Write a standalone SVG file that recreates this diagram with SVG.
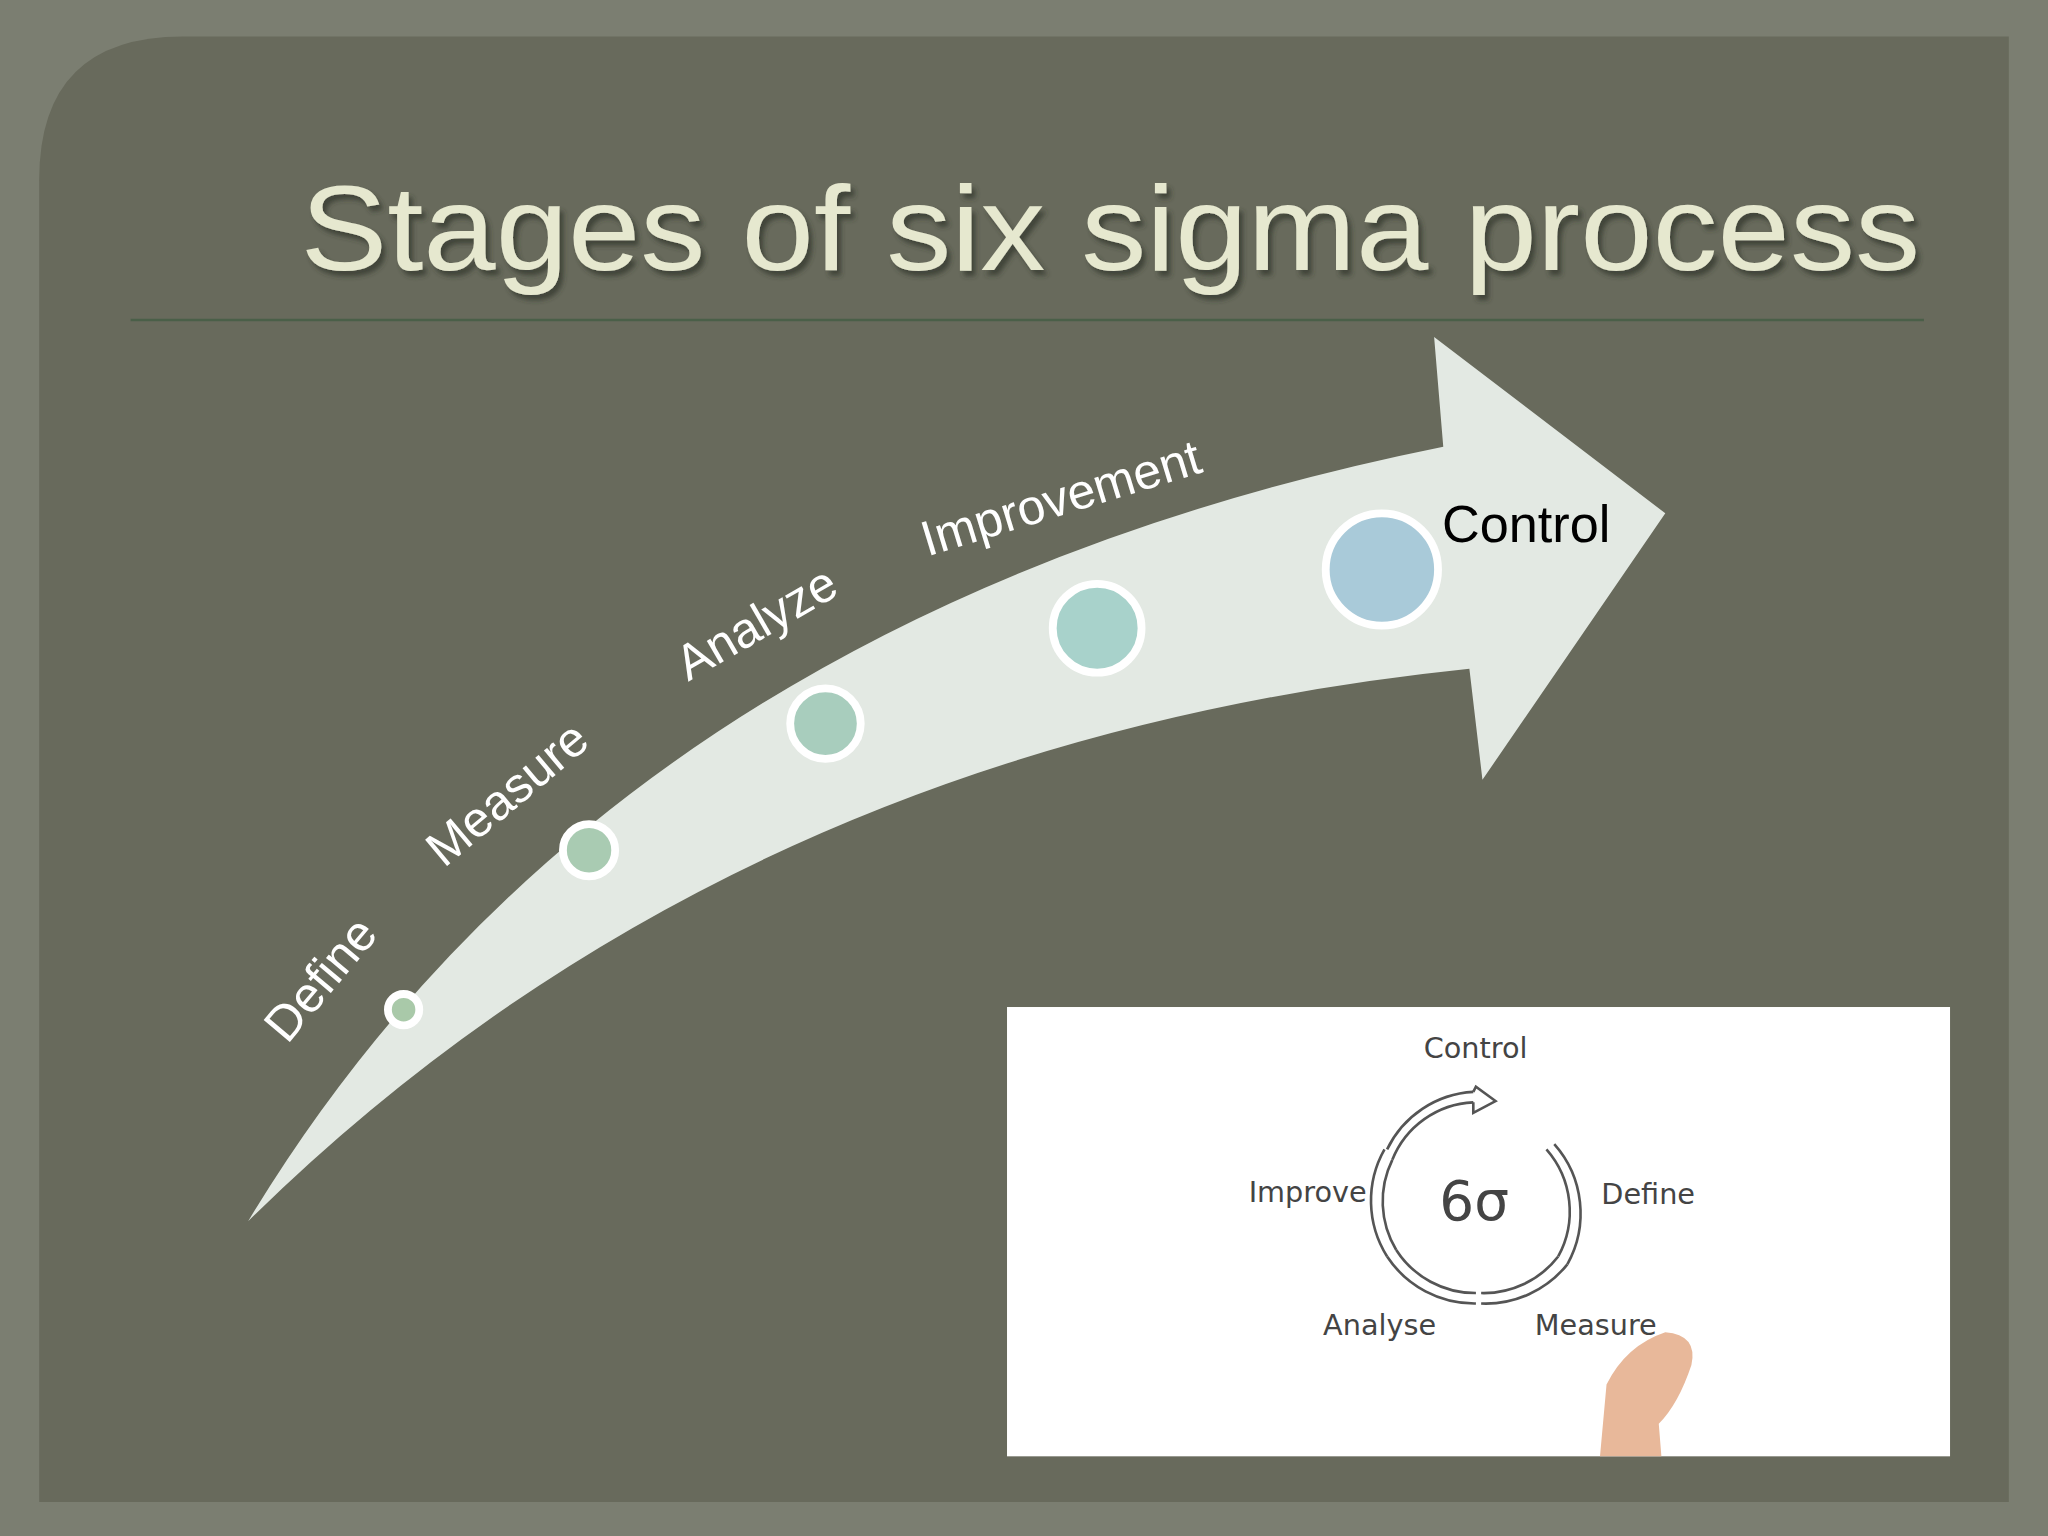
<svg xmlns="http://www.w3.org/2000/svg" width="2048" height="1536" viewBox="0 0 2048 1536">
<defs>
<filter id="sh" x="-5%" y="-20%" width="110%" height="150%"><feDropShadow dx="3" dy="4" stdDeviation="2" flood-color="#2e3028" flood-opacity="0.7"/></filter>
</defs>
<style>
.lbl{font-family:"Liberation Sans",Arial,sans-serif;font-size:38px;fill:#ffffff}
.hand{font-family:"Comic Sans MS","DejaVu Sans",sans-serif;font-size:22px;fill:#444}
.dot{stroke:#ffffff;stroke-width:6}
</style>
<g transform="scale(1.30612)">
<rect width="1568" height="1176" fill="#7b7e71"/>
<path d="M140,28 H1538 V1150 H30 V138 Q30,28 140,28 Z" fill="#686a5c"/>
<g id="title">
<text x="230" y="207" font-family="Liberation Sans,Arial,sans-serif" font-size="92" textLength="1240" lengthAdjust="spacingAndGlyphs" fill="#e6e8cf" filter="url(#sh)">Stages of six sigma process</text>
<line x1="100" y1="245" x2="1473" y2="245" stroke="#4a5f48" stroke-width="2"/>
</g>
<g id="arrow">
<path d="M190,935 Q470,470 1105,342 L1098,258 L1275,393 L1135,597 L1125,512 Q560,570 190,935 Z" fill="#e3e9e3"/>
</g>
<g id="define"><circle class="dot" cx="309" cy="773" r="12" fill="#a9c9a9"/><text class="lbl" transform="translate(220,800) rotate(-50)">Define</text></g>
<g id="measure"><circle class="dot" cx="451" cy="651" r="20" fill="#a9cbb2"/><text class="lbl" transform="translate(340,665) rotate(-40)">Measure</text></g>
<g id="analyze"><circle class="dot" cx="632" cy="554" r="27" fill="#a8cdbd"/><text class="lbl" transform="translate(527,522) rotate(-30)">Analyze</text></g>
<g id="improvement"><circle class="dot" cx="840" cy="481" r="34" fill="#a8d2cb"/><text class="lbl" transform="translate(710,426) rotate(-17)">Improvement</text></g>
<g id="control"><circle class="dot" cx="1058" cy="436" r="43" fill="#a9cad9"/><text x="1104" y="415" font-family="Liberation Sans,Arial,sans-serif" font-size="40" fill="#000">Control</text></g>
<g id="inset">
<rect x="771" y="771" width="722" height="344" fill="#ffffff"/>
<g fill="none" stroke="#555" stroke-width="2">
<path d="M1062,880 A78,78 0 0 1 1128,836"/>
<path d="M1066,888 A70,70 0 0 1 1128,844"/>
<path d="M1128,836 L1130,832 L1145,843 L1128,852 L1128,844"/>
<path d="M1190,876 A80,80 0 0 1 1200,968"/>
<path d="M1184,880 A72,72 0 0 1 1193,962"/>
<path d="M1200,968 A80,80 0 0 1 1134,998"/>
<path d="M1193,962 A72,72 0 0 1 1134,990"/>
<path d="M1130,998 A80,80 0 0 1 1062,962"/>
<path d="M1130,990 A72,72 0 0 1 1069,957"/>
<path d="M1062,962 A80,80 0 0 1 1060,880"/>
<path d="M1069,957 A72,72 0 0 1 1066,888"/>
</g>
<text class="hand" x="1090" y="810">Control</text>
<text class="hand" x="1102" y="934" style="font-size:42px">6σ</text>
<text class="hand" x="956" y="920">Improve</text>
<text class="hand" x="1226" y="922">Define</text>
<text class="hand" x="1013" y="1022">Analyse</text>
<text class="hand" x="1175" y="1022">Measure</text>
<path d="M1225,1115 L1230,1060 Q1245,1030 1275,1020 Q1300,1022 1295,1045 Q1285,1075 1270,1090 L1272,1115 Z" fill="#e8b89a"/>
</g>
</g>
</svg>
